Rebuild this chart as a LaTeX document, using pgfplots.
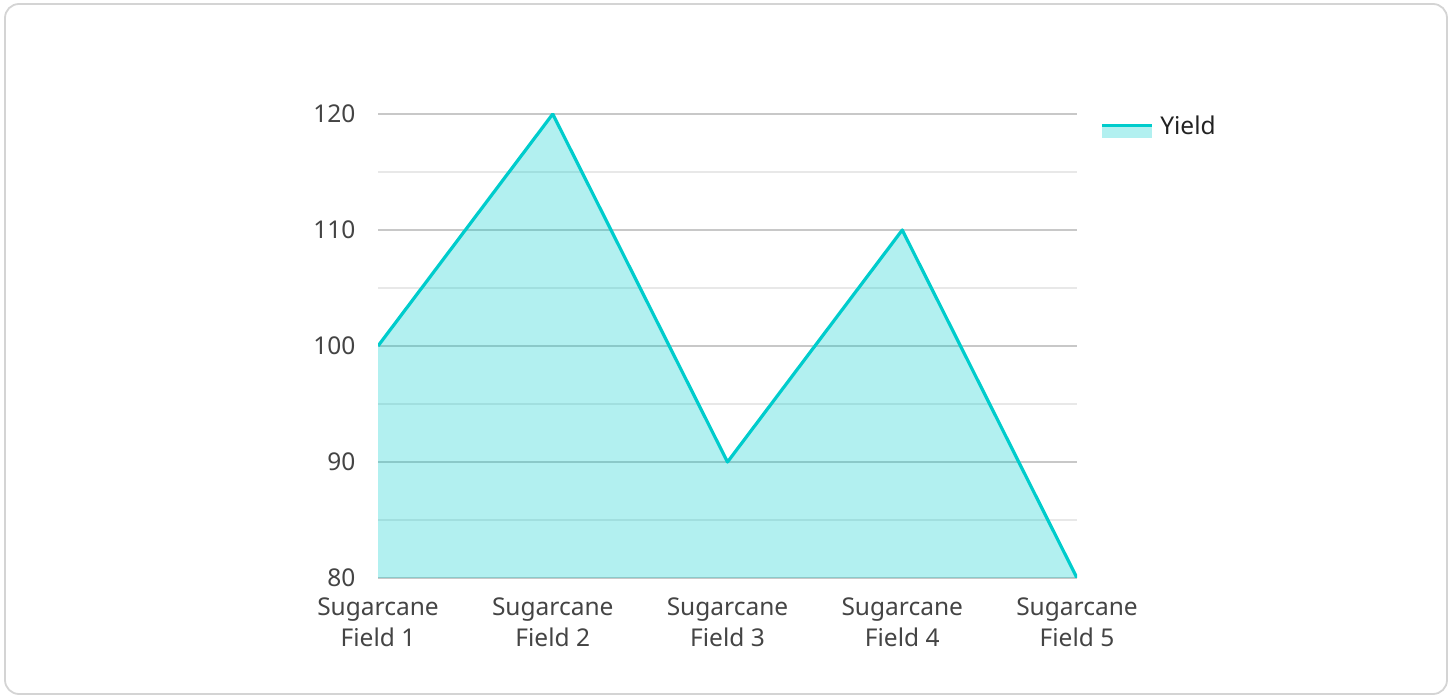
\documentclass[border=0pt]{standalone}
\usepackage{fontspec}
\setmainfont{Noto Sans}
\usepackage{pgfplots}
\pgfplotsset{compat=1.18}
\definecolor{lineC}{RGB}{0,204,204}
\definecolor{frameC}{RGB}{212,212,212}
\definecolor{majC}{RGB}{200,200,200}
\definecolor{minC}{RGB}{232,232,232}
\definecolor{tickC}{RGB}{68,68,68}
\definecolor{legC}{RGB}{34,34,34}
\begin{document}
\begin{tikzpicture}[x=1pt,y=1pt]
\path[use as bounding box] (0,0) rectangle (1453,698);
\draw[frameC, line width=1.8pt, rounded corners=14pt] (5,4) rectangle (1447,694);
\begin{axis}[
  at={(378pt,120pt)}, anchor=south west,
  scale only axis, width=699pt, height=464pt,
  xmin=0, xmax=4, ymin=80, ymax=120,
  xtick={0,1,2,3,4},
  xticklabels={{Sugarcane\\Field 1},{Sugarcane\\Field 2},{Sugarcane\\Field 3},{Sugarcane\\Field 4},{Sugarcane\\Field 5}},
  ytick={80,90,100,110,120},
  minor ytick={85,95,105,115},
  /pgf/number format/assume math mode=true,
  ymajorgrids, yminorgrids,
  major grid style={majC, line width=1.5pt},
  minor grid style={minC, line width=1.5pt},
  axis line style={draw=none},
  major tick length=0pt, minor tick length=0pt,
  tick style={draw=none},
  x tick label style={font=\fontsize{24.5}{31}\selectfont, text=tickC, align=center, yshift=-16pt},
  y tick label style={font=\fontsize{24.5}{28}\selectfont, text=tickC, xshift=-19pt},
  legend style={at={(1.033,0.974)}, anchor=west, draw=none, fill=none,
    font=\fontsize{24.5}{28}\selectfont, text=legC, inner sep=0pt, column sep=5pt},
  legend cell align=left,
]
\addplot[draw=none, fill=lineC, fill opacity=0.3, forget plot] coordinates {(0,100) (1,120) (2,90) (3,110) (4,80)} \closedcycle;
\addplot[lineC, line width=3.2pt, line join=round,
  legend image code/.code={
    \path[draw=none, fill=lineC, fill opacity=0.3] (0pt,-12.5pt) rectangle (50pt,-1.5pt);
    \path[draw=lineC, fill=none, line width=3pt] (0pt,0pt) -- (50pt,0pt);}]
  coordinates {(0,100) (1,120) (2,90) (3,110) (4,80)};
\addlegendentry{Yield}
\end{axis}
\end{tikzpicture}
\end{document}
